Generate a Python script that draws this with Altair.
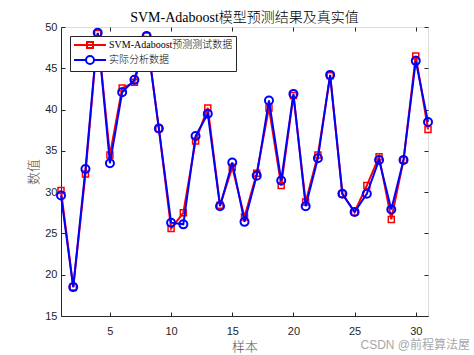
import altair as alt
import pandas as pd

samples = list(range(1, 32))
predicted = [30.2, 18.5, 32.2, 49.2, 34.5, 42.6, 43.3, 48.9, 37.7, 25.6,
             27.5, 36.2, 40.2, 28.4, 33.0, 27.0, 32.3, 40.2, 30.8, 41.7,
             28.8, 34.5, 44.1, 29.8, 27.6, 30.8, 34.3, 26.7, 33.9, 46.5, 37.6]
actual = [29.6, 18.5, 32.8, 49.3, 33.5, 42.1, 43.6, 48.9, 37.7, 26.3,
          26.1, 36.8, 39.5, 28.3, 33.6, 26.4, 32.0, 41.1, 31.4, 41.9,
          28.3, 34.1, 44.2, 29.8, 27.6, 29.8, 33.9, 27.9, 33.9, 45.9, 38.5]
series_names = ["SVM-Adaboost预测测试数据", "实际分析数据"]
series_colors = ["#FF0000", "#0000FF"]
x_ticks = [5, 10, 15, 20, 25, 30]
y_ticks = [15, 20, 25, 30, 35, 40, 45, 50]
title_text = "SVM-Adaboost模型预测结果及真实值"
x_title = "样本"
y_title = "数值"
watermark = "CSDN @前程算法屋"

rows = []
for s, p, a in zip(samples, predicted, actual):
    rows.append({"样本": s, "数值": p, "series": series_names[0]})
    rows.append({"样本": s, "数值": a, "series": series_names[1]})
df = pd.DataFrame(rows)

SERIF = "'Liberation Serif', 'Noto Sans CJK SC'"
SANS = "'Liberation Sans', 'Noto Sans CJK SC'"
AX = "#262626"

xscale = alt.Scale(domain=[1, 31], nice=False, zero=False)
yscale = alt.Scale(domain=[15, 50], nice=False, zero=False)

x_main = alt.Axis(values=x_ticks, title=x_title, grid=False, labelFont=SANS,
                  labelFontSize=11, labelColor=AX, tickColor=AX, domainColor=AX,
                  tickSize=alt.ExprRef(expr="-4"), labelPadding=13,
                  titleFont="Noto Sans CJK SC", titleFontSize=13,
                  titleFontWeight=300, titleColor="#505050", titlePadding=4)
y_main = alt.Axis(values=y_ticks, title=y_title, grid=False, labelFont=SANS,
                  labelFontSize=11, labelColor=AX, tickColor=AX, domainColor=AX,
                  tickSize=alt.ExprRef(expr="-4"), labelPadding=8,
                  titleFont="Noto Sans CJK SC", titleFontSize=13,
                  titleFontWeight=300, titleColor="#505050", titlePadding=4)
x_top = alt.Axis(orient="top", values=x_ticks, title=None, labels=False, domain=False,
                 grid=False, tickColor=AX, tickSize=alt.ExprRef(expr="-4"))
y_right = alt.Axis(orient="right", values=y_ticks, title=None, labels=False, domain=False,
                   grid=False, tickColor=AX, tickSize=alt.ExprRef(expr="-4"))

# legend glyphs: line with marker, in units of sqrt(symbolSize)/2 = 5 px
sq_path = "M-1,0H5.4M1.6,-0.6H2.8V0.6H1.6Z"
ci_path = "M-1,0H1.4M3,0H5.4M3,0A0.8,0.8 0 1 1 1.4,0A0.8,0.8 0 1 1 3,0"
shape_expr = f"datum.value === '{series_names[0]}' ? '{sq_path}' : '{ci_path}'"

legend = alt.Legend(
    title=None, orient="top-left", offset=9, padding=3,
    strokeColor=AX, fillColor="white", labelFont=SERIF, labelFontSize=10,
    labelFontWeight=300,
    labelColor="#000000", symbolSize=100, symbolStrokeWidth=2, labelOffset=24,
    rowPadding=0, symbolOpacity=1, symbolFillColor="transparent",
    symbolType=alt.ExprRef(expr=shape_expr),
)
color = alt.Color("series:N", scale=alt.Scale(domain=series_names, range=series_colors),
                  legend=legend)

base = alt.Chart(df)


def enc(xa, ya):
    return dict(x=alt.X("样本:Q", scale=xscale, axis=xa),
                y=alt.Y("数值:Q", scale=yscale, axis=ya),
                color=color)


red_line = base.mark_line(strokeWidth=2).encode(**enc(x_main, y_main)).transform_filter(
    alt.datum.series == series_names[0])
red_pts = base.mark_point(shape="square", size=36, filled=False, strokeWidth=1.5, opacity=1).encode(
    **enc(None, None)).transform_filter(alt.datum.series == series_names[0])
blue_line = base.mark_line(strokeWidth=2).encode(**enc(None, None)).transform_filter(
    alt.datum.series == series_names[1])
blue_pts = base.mark_point(shape="circle", size=64, filled=False, strokeWidth=2, opacity=1).encode(
    **enc(x_top, y_right)).transform_filter(alt.datum.series == series_names[1])

wm = alt.Chart(pd.DataFrame({"t": [watermark]})).mark_text(
    font=SANS, fontSize=12, color="#a8a8a8", align="right", baseline="alphabetic"
).encode(x=alt.value(409), y=alt.value(322), text="t:N")

chart = alt.layer(red_line, red_pts, blue_line, blue_pts, wm).resolve_axis(
    x="independent", y="independent"
).properties(
    width=367, height=289,
    title=alt.TitleParams(title_text, font=SERIF, fontSize=14, fontWeight=300,
                          color="#000000", offset=-4, anchor="middle"),
    autosize=alt.AutoSizeParams(type="none"),
    padding={"left": 61, "top": 27, "right": 46, "bottom": 39},
).configure_view(stroke=AX, strokeWidth=1).configure(background="white")

chart.save("out.html", embed_options={"renderer": "svg", "actions": False})
